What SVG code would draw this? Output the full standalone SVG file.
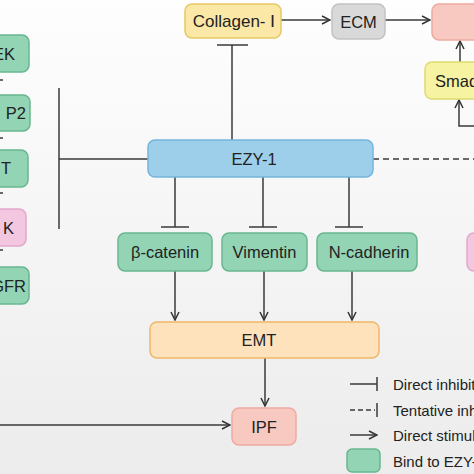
<svg xmlns="http://www.w3.org/2000/svg" width="474" height="474" viewBox="0 0 474 474">
<defs>
<linearGradient id="bg" x1="0" y1="0" x2="0" y2="1">
<stop offset="0" stop-color="#fefefe"/>
<stop offset="1" stop-color="#ececec"/>
</linearGradient>
<marker id="arr" viewBox="0 0 10 10" refX="9" refY="5" markerWidth="10" markerHeight="10" markerUnits="userSpaceOnUse" orient="auto">
<path d="M1,1 L9,5 L1,9" fill="none" stroke="#333" stroke-width="1.5"/>
</marker>
<style>
text{font-family:"Liberation Sans",Arial,sans-serif;font-size:16.5px;fill:#222;text-anchor:middle;dominant-baseline:central}
.leg{font-size:15px;text-anchor:start}
.le{text-anchor:end}
.ln{stroke:#3a3a3a;stroke-width:1.5;fill:none}
.dash{stroke-dasharray:6 4}
.green{fill:#93d4b5;stroke:#68b690;stroke-width:1.5}
.pink{fill:#f4c7e1;stroke:#e2a7cb;stroke-width:1.5}
.yellow{fill:#fbe8a6;stroke:#e6c866;stroke-width:1.5}
.gray{fill:#d9d9d9;stroke:#c2c2c2;stroke-width:1.5}
.salmon{fill:#f8c9c0;stroke:#eeaaa1;stroke-width:1.5}
.lemon{fill:#f6f3a2;stroke:#dedb72;stroke-width:1.5}
.blue{fill:#9dcfea;stroke:#74b5dc;stroke-width:1.5}
.orange{fill:#fde2bc;stroke:#f1b768;stroke-width:1.5}
</style>
</defs>
<rect width="474" height="474" fill="url(#bg)"/>

<g id="connectors">
<line class="ln" x1="281" y1="20" x2="330" y2="20" marker-end="url(#arr)"/>
<line class="ln" x1="385" y1="20" x2="430" y2="20" marker-end="url(#arr)"/>
<line class="ln" x1="460" y1="62" x2="460" y2="41" marker-end="url(#arr)"/>
<polyline class="ln" points="474,126 459,126 459,100" marker-end="url(#arr)"/>
<line class="ln" x1="232" y1="140" x2="232" y2="45"/>
<line class="ln" x1="217" y1="45" x2="248" y2="45"/>
<line class="ln" x1="148" y1="159" x2="59" y2="159"/>
<line class="ln" x1="59" y1="88" x2="59" y2="229"/>
<line class="ln dash" x1="373" y1="159" x2="474" y2="159"/>
<line class="ln" x1="175" y1="177" x2="175" y2="227"/>
<line class="ln" x1="161" y1="227" x2="189" y2="227"/>
<line class="ln" x1="263" y1="177" x2="263" y2="227"/>
<line class="ln" x1="249" y1="227" x2="277" y2="227"/>
<line class="ln" x1="349" y1="177" x2="349" y2="227"/>
<line class="ln" x1="335" y1="227" x2="363" y2="227"/>
<line class="ln" x1="175" y1="271" x2="175" y2="320" marker-end="url(#arr)"/>
<line class="ln" x1="264" y1="271" x2="264" y2="320" marker-end="url(#arr)"/>
<line class="ln" x1="352" y1="271" x2="352" y2="320" marker-end="url(#arr)"/>
<line class="ln" x1="265" y1="358" x2="265" y2="406" marker-end="url(#arr)"/>
<line class="ln" x1="0" y1="425" x2="230" y2="425" marker-end="url(#arr)"/>
<line class="ln" x1="0" y1="80" x2="3" y2="80"/>
<line class="ln" x1="0" y1="138" x2="3" y2="138"/>
<line class="ln" x1="0" y1="193" x2="3" y2="193"/>
<line class="ln" x1="0" y1="250" x2="3" y2="250"/>
</g>

<g id="node-left1"><rect class="green" x="-20" y="35" width="49" height="37" rx="7"/><text class="le" x="15" y="54">EK</text></g>
<g id="node-left2"><rect class="green" x="-20" y="95" width="50" height="36" rx="7"/><text class="le" x="26" y="113">P2</text></g>
<g id="node-left3"><rect class="green" x="-20" y="150" width="48" height="37" rx="7"/><text class="le" x="11" y="168">T</text></g>
<g id="node-left4"><rect class="pink" x="-20" y="209" width="46" height="37" rx="7"/><text class="le" x="14" y="228">K</text></g>
<g id="node-left5"><rect class="green" x="-20" y="267" width="49" height="37" rx="7"/><text class="le" x="26" y="286">GFR</text></g>

<g id="node-collagen"><rect class="yellow" x="185" y="4" width="96" height="34" rx="7"/><text x="234" y="21" style="font-size:17px">Collagen- Ⅰ</text></g>
<g id="node-ecm"><rect class="gray" x="332" y="4" width="53" height="35" rx="7"/><text x="358.5" y="21.5">ECM</text></g>
<g id="node-topright"><rect class="salmon" x="432" y="4" width="60" height="36" rx="7"/></g>
<g id="node-smad"><rect class="lemon" x="425" y="62" width="70" height="37" rx="7"/><text x="435" y="81" style="text-anchor:start">Smad</text></g>
<g id="node-ezy1"><rect class="blue" x="148" y="140" width="225" height="37" rx="7"/><text x="254" y="158.5">EZY-1</text></g>
<g id="node-bcatenin"><rect class="green" x="118" y="233" width="94" height="38" rx="7"/><text x="165" y="252">β-catenin</text></g>
<g id="node-vimentin"><rect class="green" x="222" y="233" width="85" height="38" rx="7"/><text x="264.5" y="252">Vimentin</text></g>
<g id="node-ncadherin"><rect class="green" x="317" y="233" width="100" height="38" rx="7"/><text x="369" y="252">N-cadherin</text></g>
<g id="node-rightpink"><rect class="pink" x="467" y="233" width="40" height="38" rx="7"/></g>
<g id="node-emt"><rect class="orange" x="150" y="322" width="229" height="36" rx="7"/><text x="259" y="340">EMT</text></g>
<g id="node-ipf"><rect class="salmon" x="232" y="408" width="64" height="37" rx="7"/><text x="264" y="426.5">IPF</text></g>

<g id="legend">
<line class="ln" x1="350" y1="384" x2="377" y2="384"/>
<line class="ln" x1="377" y1="377" x2="377" y2="391"/>
<line class="ln" x1="350" y1="410" x2="375" y2="410" style="stroke-dasharray:5 3"/>
<line class="ln" x1="377" y1="403" x2="377" y2="417"/>
<line class="ln" x1="350" y1="435" x2="377" y2="435" marker-end="url(#arr)"/>
<rect class="green" x="347" y="449" width="33" height="23" rx="5"/>
<text class="leg" x="393" y="384">Direct inhibite</text>
<text class="leg" x="393" y="410">Tentative inh</text>
<text class="leg" x="393" y="435">Direct stimula</text>
<text class="leg" x="393" y="461">Bind to EZY-</text>
</g>
</svg>
